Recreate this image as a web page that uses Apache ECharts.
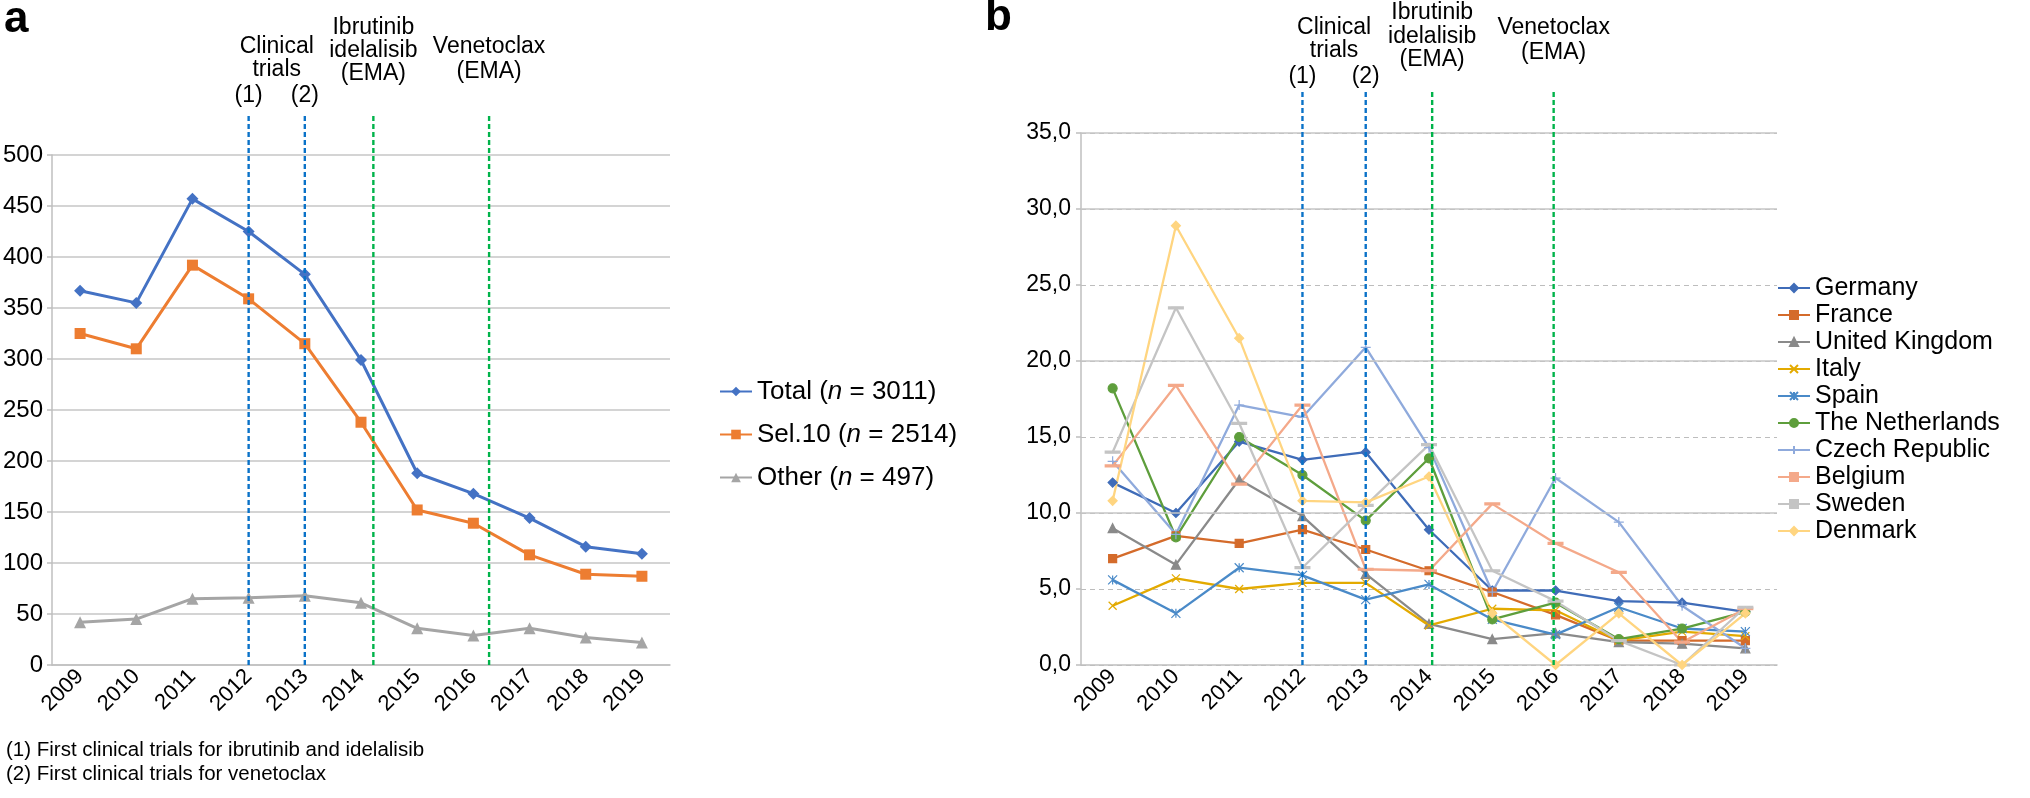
<!DOCTYPE html>
<html><head><meta charset="utf-8">
<script src="https://cdn.jsdelivr.net/npm/echarts@6/dist/echarts.min.js"></script>
<style>html,body{margin:0;padding:0;background:#fff}#c{width:2030px;height:798px}</style>
</head><body><div id="c"></div>
<script>
// ---------- data ----------
const years = ['2009','2010','2011','2012','2013','2014','2015','2016','2017','2018','2019'];

// panel a
const totalA = [367, 355, 457, 425, 383, 299, 188, 168, 144, 116, 109];
const sel10A = [325, 310, 392, 359, 315, 238, 152, 139, 108, 89, 87];
const otherA = [42, 45, 65, 66, 68, 61, 36, 29, 36, 27, 22];
const namesA = ['Total', 'Sel.10', 'Other'];
const countsA = [3011, 2514, 497];
const yMaxA = 500, yStepA = 50;

// panel b
const countries = ['Germany','France','United Kingdom','Italy','Spain','The Netherlands','Czech Republic','Belgium','Sweden','Denmark'];
const germany     = [12.0, 10.0, 14.7, 13.5, 14.0, 8.9, 4.9, 4.9, 4.2, 4.1, 3.5];
const france      = [7.0, 8.5, 8.0, 8.9, 7.6, 6.2, 4.8, 3.3, 1.6, 1.6, 1.6];
const uk          = [9.0, 6.6, 12.2, 9.8, 6.0, 2.7, 1.7, 2.1, 1.5, 1.4, 1.1];
const italy       = [3.9, 5.7, 5.0, 5.4, 5.4, 2.6, 3.7, 3.6, 1.6, 2.2, 1.9];
const spain       = [5.6, 3.4, 6.4, 5.9, 4.3, 5.3, 3.0, 2.0, 3.8, 2.4, 2.2];
const netherlands = [18.2, 8.4, 15.0, 12.5, 9.5, 13.6, 3.0, 4.1, 1.7, 2.4, 3.5];
const czech       = [13.4, 8.6, 17.1, 16.3, 20.9, 14.3, 4.8, 12.3, 9.4, 3.9, 1.1];
const belgium     = [13.1, 18.4, 11.9, 17.1, 6.3, 6.2, 10.6, 8.0, 6.1, 1.5, 3.7];
const sweden      = [14.0, 23.5, 15.9, 6.4, 10.5, 14.5, 6.2, 4.2, 1.6, 0.0, 3.8];
const denmark     = [10.8, 28.9, 21.5, 10.8, 10.7, 12.4, 3.4, 0.0, 3.4, 0.0, 3.4];
const seriesB = [germany, france, uk, italy, spain, netherlands, czech, belgium, sweden, denmark];
const yMaxB = 35, yStepB = 5;
const solidGridB = [10, 20, 30, 35];

// event lines (position in years) and annotations
const eventsA = [2012, 2013, 2014.22, 2016.28];
const eventsB = [2012, 2013, 2014.05, 2015.97];
const eventKinds = ['trial', 'trial', 'ema', 'ema'];
const footnotes = ['(1) First clinical trials for ibrutinib and idelalisib', '(2) First clinical trials for venetoclax'];

// ---------- styles ----------
const FONT = 'Liberation Sans, Arial, Helvetica, sans-serif';
const colorsA = ['#4472C4', '#ED7D31', '#A5A5A5'];
const symbolsA = ['diamond', 'rect', 'triangle'];
const symSizeA = [12, 11, 12];
const colorsB = ['#3F6CB8','#D46B2B','#8A8A8A','#E3AA00','#4A8AC8','#5E9E3C','#8FAADC','#F4A98A','#C4C4C4','#FFD580'];
const P_X = 'path://M0,0L10,10M10,0L0,10';
const P_AST = 'path://M0,0L10,10M10,0L0,10M5,0L5,10';
const P_PLUS = 'path://M5,0L5,10M0,5L10,5';
const symbolsB = ['diamond','rect','triangle',P_X,P_AST,'circle',P_PLUS,'rect','rect','diamond'];
const symSizeB = [9, 8, 9, 8, 9, 9, 10, [10,2], [10,2], 9];
const eventColor = {trial: '#0A72C8', ema: '#00B34A'};

const gA = {left: 52, right: 1360, top: 155, bottom: 133};
const gB = {left: 1081, right: 253, top: 133, bottom: 133};

const chart = echarts.init(document.getElementById('c'), null, {renderer: 'canvas'});

const series = [];
const dataA = [totalA, sel10A, otherA];
namesA.forEach((n, i) => series.push({
  name: n, type: 'line', xAxisIndex: 0, yAxisIndex: 0, data: dataA[i],
  symbol: symbolsA[i], symbolSize: symSizeA[i], z: 5 - i,
  lineStyle: {color: colorsA[i], width: 3}, itemStyle: {color: colorsA[i]}
}));
countries.forEach((n, i) => series.push({
  name: n, type: 'line', xAxisIndex: 1, yAxisIndex: 1, data: seriesB[i],
  symbol: symbolsB[i], symbolSize: symSizeB[i], z: 3,
  lineStyle: {color: colorsB[i], width: 2.3},
  itemStyle: {color: colorsB[i], borderColor: colorsB[i], borderWidth: 1.2}
}));
// solid grid lines in panel b (others dashed)
series.push({
  type: 'line', xAxisIndex: 1, yAxisIndex: 1, data: years.map(() => null), z: 1, silent: true,
  markLine: {silent: true, symbol: 'none', label: {show: false}, animation: false,
    lineStyle: {color: '#C6C6C6', type: 'solid', width: 1.5},
    data: solidGridB.map(v => ({yAxis: v}))}
});
// event lines
eventsA.forEach((e, i) => series.push({
  type: 'line', xAxisIndex: 2, yAxisIndex: 2, data: [[e, 0], [e, 1]], symbol: 'none', z: 10, silent: true,
  lineStyle: {color: eventColor[eventKinds[i]], width: 2.4, type: [5, 3]}
}));
eventsB.forEach((e, i) => series.push({
  type: 'line', xAxisIndex: 3, yAxisIndex: 3, data: [[e, 0], [e, 1]], symbol: 'none', z: 10, silent: true,
  lineStyle: {color: eventColor[eventKinds[i]], width: 2.4, type: [5, 3]}
}));

const catAxis = (gi) => ({
  type: 'category', gridIndex: gi, data: years, boundaryGap: true,
  axisLine: {lineStyle: {color: '#BFBFBF', width: 1.5}},
  axisTick: {show: false},
  axisLabel: {rotate: 45, fontSize: 22, color: '#000', fontFamily: FONT, margin: 8, interval: 0},
  splitLine: {show: false}
});
const evX = (gi) => ({type: 'value', gridIndex: gi, min: 2008.5, max: 2019.5, show: false});
const evY = (gi) => ({type: 'value', gridIndex: gi, min: 0, max: 1, show: false});

const option = {
  animation: false,
  backgroundColor: '#fff',
  grid: [
    Object.assign({containLabel: false, outerBoundsMode: 'none'}, gA),
    Object.assign({containLabel: false, outerBoundsMode: 'none'}, gB),
    {containLabel: false, outerBoundsMode: 'none', left: gA.left, right: gA.right, top: 114, bottom: gA.bottom},
    {containLabel: false, outerBoundsMode: 'none', left: gB.left, right: gB.right, top: 92, bottom: gB.bottom}
  ],
  xAxis: [catAxis(0), catAxis(1), evX(2), evX(3)],
  yAxis: [
    {type: 'value', gridIndex: 0, min: 0, max: yMaxA, interval: yStepA,
     axisLine: {show: true, lineStyle: {color: '#BFBFBF', width: 1.5}},
     axisTick: {show: true, length: 5, lineStyle: {color: '#BFBFBF', width: 1.5}},
     axisLabel: {fontSize: 24, color: '#000', fontFamily: FONT, margin: 9},
     splitLine: {lineStyle: {color: '#C6C6C6', width: 1.5}}},
    {type: 'value', gridIndex: 1, min: 0, max: yMaxB, interval: yStepB,
     axisLine: {show: true, lineStyle: {color: '#BFBFBF', width: 1.5}},
     axisTick: {show: true, length: 5, lineStyle: {color: '#BFBFBF', width: 1.5}},
     axisLabel: {fontSize: 23, color: '#000', fontFamily: FONT, margin: 10,
       formatter: v => v.toFixed(1).replace('.', ',')},
     splitLine: {lineStyle: {color: '#BDBDBD', width: 1.2, type: [5, 4]}}},
    evY(2), evY(3)
  ],
  legend: [
    {data: namesA, orient: 'vertical', left: 714, top: 372, itemWidth: 32, itemHeight: 12, itemGap: 14,
     selectedMode: false,
     formatter: name => {
       const i = namesA.indexOf(name);
       return '{t|' + name + ' (}{i|n}{t| = ' + countsA[i] + ')}';
     },
     textStyle: {fontSize: 26, lineHeight: 29, color: '#000', fontFamily: FONT,
       rich: {t: {fontSize: 26, fontFamily: FONT, color: '#000'},
              i: {fontSize: 26, fontFamily: FONT, color: '#000', fontStyle: 'italic'}}}},
    {data: countries, orient: 'vertical', left: 1772, top: 270, itemWidth: 32, itemHeight: 10, itemGap: 1,
     selectedMode: false,
     textStyle: {fontSize: 25, lineHeight: 26, color: '#000', fontFamily: FONT}}
  ],
  series: series
};
chart.setOption(option);

// annotations positioned from the event axes
const px = (axis, v) => chart.convertToPixel({xAxisIndex: axis}, v);
const txt = (x, y, s, opts) => Object.assign({
  type: 'text', x: x, y: y,
  style: Object.assign({text: s, fill: '#000', font: '23px ' + FONT, align: 'center', verticalAlign: 'middle'}, opts || {})
});
function annotations(axis, ev, rows) {
  const a = px(axis, ev[0]), b = px(axis, ev[1]), c = px(axis, ev[2]), d = px(axis, ev[3]);
  return [
    txt((a + b) / 2, rows.cl[0], 'Clinical'),
    txt((a + b) / 2, rows.cl[1], 'trials'),
    txt(a, rows.cl[2], '(1)'),
    txt(b, rows.cl[2], '(2)'),
    txt(c, rows.ib[0], 'Ibrutinib'),
    txt(c, rows.ib[1], 'idelalisib'),
    txt(c, rows.ib[2], '(EMA)'),
    txt(d, rows.ve[0], 'Venetoclax'),
    txt(d, rows.ve[1], '(EMA)')
  ];
}
const graphics = []
  .concat(annotations(2, eventsA, {cl: [47, 70, 96], ib: [28, 51, 74], ve: [47, 72]}))
  .concat(annotations(3, eventsB, {cl: [28, 51, 77], ib: [13, 37, 60], ve: [28, 53]}))
  .concat([
    txt(4, 20, 'a', {font: 'bold 44px ' + FONT, align: 'left'}),
    txt(985, 18, 'b', {font: 'bold 44px ' + FONT, align: 'left'}),
    txt(6, 750, footnotes[0], {font: '20.5px ' + FONT, align: 'left'}),
    txt(6, 774, footnotes[1], {font: '20.5px ' + FONT, align: 'left'})
  ]);
chart.setOption({graphic: graphics});
</script></body></html>
